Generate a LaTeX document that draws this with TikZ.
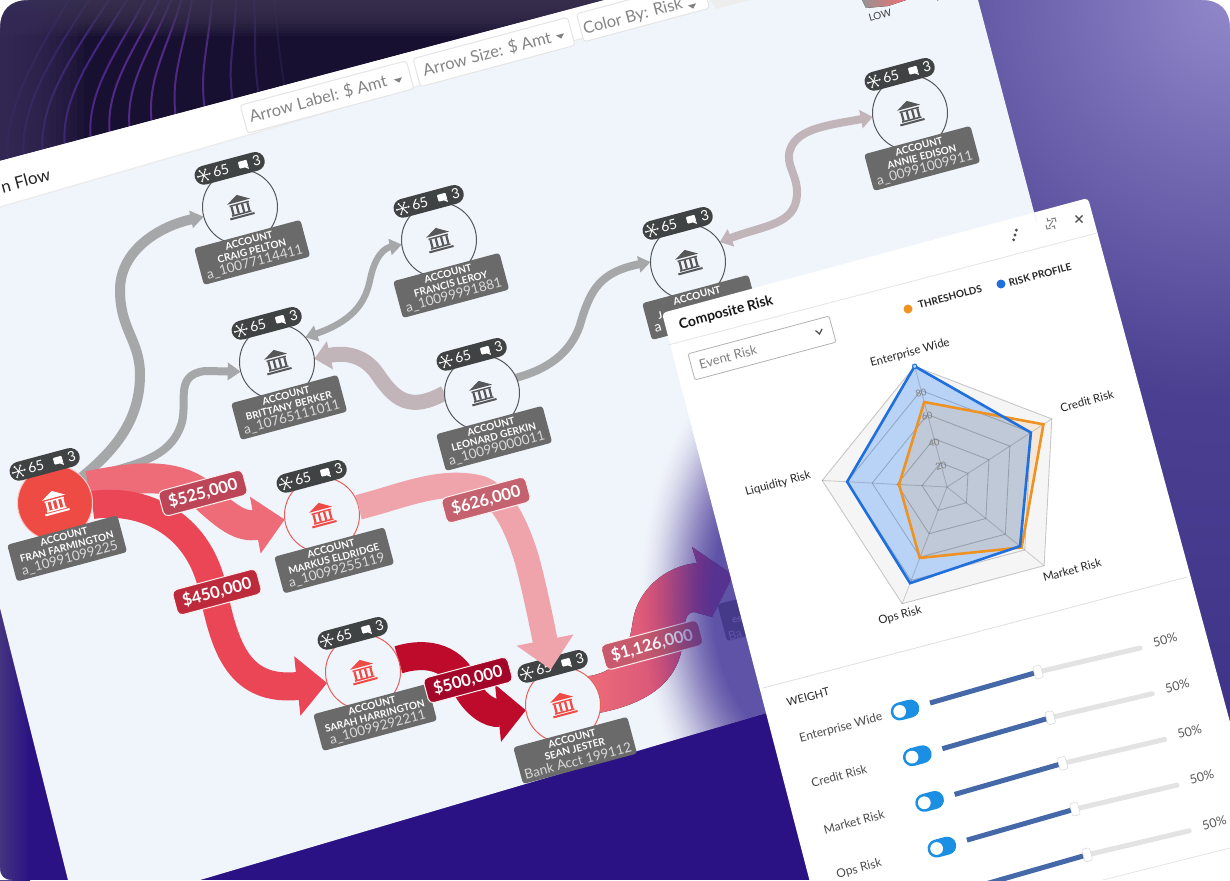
\documentclass[tikz,border=0pt]{standalone}
\usepackage{fontspec}
\setmainfont{Lato}
\usetikzlibrary{arrows.meta}
\definecolor{panel}{HTML}{F0F4FB}
\definecolor{indigo}{HTML}{2A1285}
\definecolor{dark}{HTML}{181030}
\definecolor{badge}{HTML}{3F4343}
\definecolor{lab}{HTML}{6A6A6A}
\definecolor{ringg}{HTML}{555759}
\definecolor{ringr}{HTML}{E8605A}
\definecolor{bred}{HTML}{EE4B45}
\definecolor{rgrey}{HTML}{A5A7A9}
\definecolor{rrose}{HTML}{C2B5B9}
\definecolor{rsal}{HTML}{EE6C78}
\definecolor{rred}{HTML}{EA4656}
\definecolor{rpink}{HTML}{EFA3AB}
\definecolor{rdeep}{HTML}{BE0A2B}
\definecolor{glowc}{HTML}{43339A}
\definecolor{tr1}{HTML}{9188CB}
\definecolor{tr2}{HTML}{7A70B8}
\definecolor{tr3}{HTML}{4A3F90}
\definecolor{tr4}{HTML}{3D3188}
\definecolor{oran}{HTML}{EE9222}
\definecolor{blu}{HTML}{1F6FDC}
\definecolor{bluf}{HTML}{B9D3F7}
\definecolor{slid}{HTML}{4468A8}
\definecolor{togg}{HTML}{1A8FE3}
\definecolor{mA}{HTML}{BC4658}
\definecolor{mB}{HTML}{BC2A3C}
\definecolor{mC}{HTML}{C4626F}
\definecolor{mD}{HTML}{A30628}
\definecolor{mE}{HTML}{C75A6D}
\definecolor{topb}{HTML}{3E3754}
\definecolor{leftb}{HTML}{3A2F5C}
\definecolor{blc}{HTML}{44337F}
\pgfdeclarelayer{base}
\pgfdeclarelayer{conn}
\pgfsetlayers{base,conn,main}
\pgfdeclareradialshading{trsh}{\pgfpointorigin}{color(0bp)=(tr1); color(4bp)=(tr2); color(12.5bp)=(tr3); color(25bp)=(tr4); color(50bp)=(indigo)}
\tikzset{
 rb/.style n args={3}{line width=#1pt,line cap=butt,-{Triangle[length=#2pt,width=#3pt]}},
 rbb/.style n args={3}{line width=#1pt,line cap=butt,{Triangle[length=#2pt,width=#3pt]}-{Triangle[length=#2pt,width=#3pt]}},
 ringst/.style={circle,minimum size=75pt,inner sep=0pt,outer sep=0pt,fill=panel,line width=1pt,transform shape},
 labst/.style={fill=lab,rounded corners=3pt,minimum height=38pt,inner sep=0pt,transform shape},
 ltxt/.style={text=white,inner sep=0pt,transform shape,font=\fontsize{10}{11}\selectfont\bfseries},
 ltid/.style={text=white!85!black,inner sep=0pt,transform shape,font=\fontsize{13.5}{14}\selectfont},
 badgest/.style={fill=badge,rounded corners=9.5pt,minimum width=72pt,minimum height=19pt,inner sep=0pt,transform shape},
 btxt/.style={text=white,inner sep=0pt,font=\fontsize{14}{14}\selectfont,transform shape},
 money/.style={rotate=15,rounded corners=5pt,draw=white!75!pink,line width=1pt,text=white,inner xsep=8pt,inner ysep=5pt,font=\fontsize{16.5}{18}\selectfont\bfseries},
 drop/.style={rotate=15,fill=white,draw=black!10,line width=1pt,rounded corners=3pt,inner sep=0pt},
 dtxt/.style={rotate=15,text=black!48,inner sep=0pt,font=\fontsize{16.5}{18}\selectfont},
 ctxt/.style={rotate=15,text=black!85,inner sep=0pt,font=\fontsize{11.5}{13}\selectfont},
}
\newcommand{\bankicon}[1]{%
 \fill[#1] (-12,-5.5) -- (0,-12.5) -- (12,-5.5) -- cycle;
 \fill[#1] (-10,-4) rectangle (10,-2.6);
 \foreach \cx in {-8.2,-2.8,2.8,8.2} {\fill[#1] (\cx-1.1,-2.6) rectangle (\cx+1.1,6);}
 \fill[#1] (-10,6) rectangle (10,7.5);
 \fill[#1] (-12.5,8.5) rectangle (12.5,10.5);
}
\newcommand{\acct}[9]{%
 \begin{scope}[shift={(#2,#3)},rotate=15]
  \node[ringst,draw=#6,fill=#8] (#1) at (0,0) {};
  \bankicon{#7}
  \node[labst,minimum width=#9pt] (#1lab) at (0,47) {};
  \node[ltxt] (#1la) at (0,34.5) {ACCOUNT};
  \node[ltxt] (#1lb) at (0,45.5) {#4};
  \node[ltid] (#1lc) at (0,57.5) {#5};
  \node[badgest] (#1bad) at (0,-40) {};
  \foreach \sa in {0,60,...,300} {
   \draw[white,line width=.9pt] (-26.8,-40) -- ++(\sa:5);
   \fill[white] (-26.8,-40) ++(\sa:6) circle (1.1);
  }
  \node[btxt] (#1n) at (-9,-40.3) {65};
  \fill[white,rounded corners=1pt] (9.5,-44) rectangle (18.5,-37);
  \fill[white] (15,-37) -- (18.5,-37) -- (18.5,-34.5) -- cycle;
  \node[btxt] (#1m) at (28,-40.3) {3};
 \end{scope}
}
\newcommand{\penta}[1]{({947+#1*cos(105)},{487-#1*sin(105)}) -- ({947+#1*cos(33)},{487-#1*sin(33)}) -- ({947+#1*cos(-39)},{487-#1*sin(-39)}) -- ({947+#1*cos(-111)},{487-#1*sin(-111)}) -- ({947+#1*cos(177)},{487-#1*sin(177)}) -- cycle}
\begin{document}
\begin{tikzpicture}[x=1pt,y=-1pt]
\useasboundingbox (0,0) rectangle (1230,880);
% ---------- background ----------
\begin{pgfonlayer}{base}
 \fill[indigo] (0,0) rectangle (1230,880);
 \begin{scope}
  \clip (0,0) rectangle (1230,880);
  \shade[shading=trsh] (1230,0) circle (800);
 \end{scope}
 \fill[left color=blc,right color=indigo] (0,600) rectangle (30,880);
 \fill[dark] (0,0) rectangle (720,200);
 \foreach \xb/\xt/\cc/\oo in {8/70/3E2A88/.6,24/90/44298E/.7,43/110/4A2A92/.8,65/128/4A2A92/.85,91/146/542B92/.85,110/160/5A2C90/.9,130/172/5A2C90/.9,152/182/5A2C90/.9,176/192/5A2C90/.85,205/212/54308E/.8,233/236/4A3088/.65,259/254/3E2C78/.5,285/274/352A68/.35} {
  \definecolor{stc}{HTML}{\cc}
  \draw[stc,line width=2pt,opacity=\oo] (\xb,{166-.27*\xb}) .. controls ({\xb-6},{110-.2*\xb}) and ({(\xb+\xt)/2},50) .. (\xt,-2);
 }
 \foreach \j in {1,...,12} {\fill[topb,opacity=.14] (0,0) rectangle (720,{\j*3});}
 \foreach \j in {1,...,12} {\fill[leftb,opacity=.14] (0,0) rectangle ({\j*7},170);}
 % main window
 \fill[panel] (0,161) -- (605,0) -- (978,0) -- (1100,462) -- (800,703) -- (200,880) -- (68,880) -- (0,608) -- cycle;
 \fill[white] (0,161) -- (605,0) -- (714,0) -- (0,207) -- cycle;
 \draw[black!8,line width=1.2pt] (0,207) -- (714,0);
\end{pgfonlayer}
% toolbar
\node[drop,minimum width=172pt,minimum height=29pt] (d1) at (327,97) {};
\node[dtxt] (d1t) at (318,99) {Arrow Label: \$ Amt};
\fill[black!50] (394,79.5) -- (402,77.3) -- (399.2,82.6) -- cycle;
\node[drop,minimum width=160pt,minimum height=29pt] (d2) at (494,52) {};
\node[dtxt] (d2t) at (487,54) {Arrow Size: \$ Amt};
\fill[black!50] (556,35.5) -- (564,33.3) -- (561.2,38.6) -- cycle;
\node[drop,minimum width=130pt,minimum height=29pt] (d3) at (643,11) {};
\node[dtxt] (d3t) at (633,17) {Color By: Risk};
\fill[black!50] (688,5.5) -- (696,3.3) -- (693.2,8.6) -- cycle;
\fill[black!7] (710,0) -- (716,9) -- (750,0) -- cycle;
\fill[left color=black!42,right color=red!55!white!95!black] (862,0) -- (866,8) -- (888,6) -- (906,0) -- cycle;
\node[rotate=15,text=black!75,inner sep=0pt,font=\fontsize{10}{11}\selectfont] (low) at (880,15) {LOW};
\node[rotate=15,text=black!70,inner sep=0pt,font=\fontsize{10}{11}\selectfont] (high) at (948,-5) {HIGH};
\node[rotate=15,text=black!85,inner sep=0pt,anchor=east,font=\fontsize{17}{19}\selectfont] (title) at (50,174) {n Flow};
% ---------- accounts ----------
\acct{craig}{240}{207}{CRAIG PELTON}{a\_10077114411}{ringg}{ringg}{panel}{110}
\acct{francis}{439}{240}{FRANCIS LEROY}{a\_10099991881}{ringg}{ringg}{panel}{110}
\acct{brittany}{277}{362}{BRITTANY BERKER}{a\_10765111011}{ringg}{ringg}{panel}{110}
\acct{leonard}{482}{393}{LEONARD GERKIN}{a\_10099000011}{ringg}{ringg}{panel}{110}
\acct{annie}{910}{113}{ANNIE EDISON}{a\_00991009911}{ringg}{ringg}{panel}{110}
\acct{middle}{688}{262}{}{}{ringg}{ringg}{panel}{110}
\acct{fran}{55}{503}{FRAN FARMINGTON}{a\_10991099225}{bred!30!white}{white}{bred}{114}
\acct{markus}{322}{515}{MARKUS ELDRIDGE}{a\_10099255119}{ringr}{bred}{panel}{114}
\acct{sarah}{363}{672}{SARAH HARRINGTON}{a\_10099292211}{ringr}{bred}{panel}{118}
\acct{sean}{563}{705}{SEAN JESTER}{Bank Acct 199112}{ringr}{bred}{panel}{118}
\node[rotate=15,inner sep=0pt,text=white,font=\fontsize{10}{10}\selectfont\bfseries] (mj) at (660,315) {J};
\node[rotate=15,inner sep=0pt,text=white,font=\fontsize{14}{13}\selectfont] (ma) at (658,328) {a};
\node[rotate=15,fill=lab,rounded corners=3pt,minimum width=130pt,minimum height=38pt] (far) at (785,606) {};
\node[rotate=15,inner sep=0pt,text=white,font=\fontsize{10}{11}\selectfont\bfseries] (farA) at (737,620) {es};
\node[rotate=15,inner sep=0pt,text=white,font=\fontsize{12}{13}\selectfont] (farB) at (735,635) {Ba};
% ---------- connectors ----------
\begin{pgfonlayer}{conn}
 \draw[rgrey,rb={10}{13}{17}] (fran.29) .. controls (115,450) and (140,420) .. (140,375) .. controls (140,340) and (120,330) .. (120,290) .. controls (120,250) and (160,226) .. (craig.west);
 \draw[rgrey,rb={8}{13}{17}] (fran.22) .. controls (120,465) and (165,465) .. (180,428) .. controls (190,405) and (172,375) .. (205,371) -- (brittany.west);
 \draw[rgrey,rbb={6.5}{12}{16}] (brittany.26) .. controls (350,322) and (365,305) .. (370,280) .. controls (375,255) and (385,248) .. (francis.172);
 \draw[rrose,rb={15}{16}{28}] (leonard.165) .. controls (410,412) and (395,400) .. (378,375) .. controls (365,355) and (345,352) .. (brittany.-10);
 \draw[rgrey,rb={8}{12}{16}] (leonard.9) .. controls (545,370) and (570,355) .. (580,325) .. controls (590,290) and (600,272) .. (middle.165);
 \draw[rrose,rbb={8}{12}{18}] (middle.17) .. controls (765,225) and (795,225) .. (797,195) .. controls (798,175) and (785,165) .. (790,150) .. controls (797,128) and (830,125) .. (annie.171);
 \draw[rsal,rb={30}{30}{56}] (fran.12) .. controls (130,478) and (175,470) .. (205,497) .. controls (225,515) and (240,528) .. (markus.172);
 \draw[rred,rb={28}{30}{58}] (fran.-18) .. controls (140,498) and (198,520) .. (213,590) .. controls (225,650) and (240,692) .. (sarah.182);
 \draw[rdeep,rb={28}{28}{56}] (sarah.4) .. controls (430,650) and (455,660) .. (465,685) .. controls (475,705) and (490,714) .. (sean.173);
 \fill[left color=rsal,middle color=rsal!96!violet,right color=rsal!60!violet] (sean.35) .. controls (625,672) and (630,640) .. (633,620) .. controls (638,590) and (665,566) .. (697,563) -- (692,547) -- (733,575) -- (712,617) -- (694,612) .. controls (685,612) and (684,625) .. (683,640) .. controls (680,680) and (650,703) .. (sean.-27) -- cycle;
\end{pgfonlayer}
\draw[rpink,rb={25}{30}{56}] (markus.-3) .. controls (400,497) and (440,478) .. (480,488) .. controls (500,495) and (515,520) .. (527,560) .. controls (535,590) and (542,625) .. (sean.94);
% ---------- amount labels ----------
\node[money,fill=mA] (m1) at (203,493) {\$525,000};
\node[money,fill=mB] (m2) at (217,592) {\$450,000};
\node[money,fill=mC] (m3) at (486,500) {\$626,000};
\node[money,fill=mD] (m4) at (468,680) {\$500,000};
\node[money,fill=mE] (m5) at (652,645) {\$1,126,000};
% ---------- glow ----------
\begin{scope}
 \clip (0,161) -- (605,0) -- (978,0) -- (1100,462) -- (800,703) -- (200,880) -- (68,880) -- (0,608) -- cycle;
 \foreach \k in {0,...,29} {\pgfmathsetmacro{\oop}{.005+.0033*\k}\fill[glowc,opacity=\oop] (805,600) ellipse ({165*(1-\k*.45/30)} and {265*(1-\k*.45/30)});}
\end{scope}
% ---------- composite risk card ----------
\fill[white,rounded corners=4pt] (662,313) -- (1088,198) -- (1240,759) -- (1240,890) -- (812,890) -- cycle;
\draw[black!10,line width=.8pt] (668,345) -- (1097,233);
\draw[black!6,line width=.8pt] (1034,212) -- (1037,223);
\node[ctxt,text=black!90,font=\fontsize{14}{16}\selectfont\bfseries] (ctitle) at (726,313) {Composite Risk};
\node[rotate=15,fill=white,draw=black!30,line width=.8pt,rounded corners=2pt,minimum width=146pt,minimum height=27pt,inner sep=0pt] (cdrop) at (762,348) {};
\node[ctxt,text=black!50,font=\fontsize{13}{15}\selectfont] (cdropt) at (728,357) {Event Risk};
\draw[black!70,line width=1.2pt] (815.5,330.5) -- (819.5,334) -- (822,329);
\fill[oran] (908,309) circle (4.5);
\node[ctxt,font=\fontsize{10}{11}\selectfont\bfseries] (lt) at (950,297) {THRESHOLDS};
\fill[blu] (1001,284) circle (4.5);
\node[ctxt,font=\fontsize{10}{11}\selectfont\bfseries] (lr) at (1040,275) {RISK PROFILE};
\foreach \dy in {-5,0,5} {\fill[black!70] ({1015-\dy*.26},{235+\dy*.97}) circle (1.6);}
\draw[black!50,line width=1pt] (1046,225) -- (1047,229) -- (1051,228) (1056,222) -- (1055,218) -- (1051,219) (1053,220.5) -- (1049,226.5) (1047,218) -- (1047.8,221) -- (1050.5,220.3) (1055,229) -- (1054.4,226) -- (1051.8,226.7);
\draw[black!70,line width=1.2pt] (1075.5,215.5) -- (1082.5,222.5) (1082.5,215.5) -- (1075.5,222.5);
% radar
\fill[black!4] \penta{125};
\fill[bluf] ({947+125*cos(105)},{487-125*sin(105)}) -- ({947+100*cos(33)},{487-100*sin(33)}) -- ({947+94*cos(-39)},{487-94*sin(-39)}) -- ({947+103*cos(-111)},{487-103*sin(-111)}) -- ({947+100*cos(177)},{487-100*sin(177)}) -- cycle;
\fill[oran,opacity=.14] ({947+88*cos(105)},{487-88*sin(105)}) -- ({947+115*cos(33)},{487-115*sin(33)}) -- ({947+96*cos(-39)},{487-96*sin(-39)}) -- ({947+76*cos(-111)},{487-76*sin(-111)}) -- ({947+48*cos(177)},{487-48*sin(177)}) -- cycle;
\foreach \rr in {25,50,75,100,125} {\draw[black,opacity=.2,line width=.9pt] \penta{\rr};}
\foreach \aa in {105,33,-39,-111,177} {\draw[black,opacity=.16,line width=.9pt] (947,487) -- ({947+125*cos(\aa)},{487-125*sin(\aa)});}
\draw[oran,line width=2.6pt,line join=miter] ({947+88*cos(105)},{487-88*sin(105)}) -- ({947+115*cos(33)},{487-115*sin(33)}) -- ({947+96*cos(-39)},{487-96*sin(-39)}) -- ({947+76*cos(-111)},{487-76*sin(-111)}) -- ({947+48*cos(177)},{487-48*sin(177)}) -- cycle;
\draw[blu,line width=2.6pt,line join=miter] ({947+125*cos(105)},{487-125*sin(105)}) -- ({947+100*cos(33)},{487-100*sin(33)}) -- ({947+94*cos(-39)},{487-94*sin(-39)}) -- ({947+103*cos(-111)},{487-103*sin(-111)}) -- ({947+100*cos(177)},{487-100*sin(177)}) -- cycle;
\draw[blu,fill=bluf,line width=1pt] ({947+125*cos(105)},{487-125*sin(105)}) circle (2.2);
\foreach \tx/\ty/\tt in {921/393/80,927/416/60,934/443/40,941/466/20} {\node[rotate=15,inner sep=0pt,text=black!50,font=\fontsize{9.5}{10}\selectfont] (tick\tt) at (\tx,\ty) {\tt};}
\node[ctxt] (ax1) at (910,353) {Enterprise Wide};
\node[ctxt] (ax2) at (1087,401) {Credit Risk};
\node[ctxt] (ax3) at (778,484) {Liquidity Risk};
\node[ctxt] (ax4) at (1072,570) {Market Risk};
\node[ctxt] (ax5) at (900,616) {Ops Risk};
\draw[black!12,line width=.8pt] (763,688) -- (1187,577);
\node[ctxt,font=\fontsize{11}{13}\selectfont] (wt) at (808,697) {WEIGHT};
% sliders
\foreach \i in {0,1,2,3,4} {
 \draw[black!11,line width=5pt,line cap=round] ({1038+12.3*\i},{672+45.7*\i}) -- ({1140+12.3*\i},{648+45.7*\i});
 \draw[slid,line width=5pt] ({930+12.3*\i},{703+45.7*\i}) -- ({1038+12.3*\i},{672+45.7*\i});
 \node[rotate=15,fill=white,draw=black!14,line width=.6pt,rounded corners=2pt,minimum width=8pt,minimum height=13pt,inner sep=0pt] (th\i) at ({1038+12.3*\i},{672+45.7*\i}) {};
 \node[rotate=15,inner sep=0pt,text=black!65,font=\fontsize{12.5}{14}\selectfont] (pc\i) at ({1165+12.3*\i},{640+45.7*\i}) {50\%};
}
\foreach \i in {0,1,2,3} {
 \node[rotate=15,fill=togg,rounded corners=9pt,minimum width=29pt,minimum height=18pt,inner sep=0pt] (tg\i) at ({905+12.3*\i},{710+45.7*\i}) {};
 \fill[white] ({905+12.3*\i-5.3},{710+45.7*\i+1.4}) circle (6.4);
}
\node[ctxt,text=black!70,font=\fontsize{12}{14}\selectfont] (r1) at (841,728) {Enterprise Wide};
\node[ctxt,text=black!70,font=\fontsize{12}{14}\selectfont] (r2) at (839,776) {Credit Risk};
\node[ctxt,text=black!70,font=\fontsize{12}{14}\selectfont] (r3) at (854,822) {Market Risk};
\node[ctxt,text=black!70,font=\fontsize{12}{14}\selectfont] (r4) at (859,869) {Ops Risk};
\draw[black!10,line width=.8pt] (1103,880) -- (1230,848);
% rounded outer corners
\fill[white] (0,0) -- (28,0) .. controls (10,0) and (0,10) .. (0,28) -- cycle;
\fill[white] (1230,0) -- (1202,0) .. controls (1220,0) and (1230,10) .. (1230,28) -- cycle;
\fill[white] (0,880) -- (12,880) .. controls (4,880) and (0,876) .. (0,868) -- cycle;
\end{tikzpicture}
\end{document}
